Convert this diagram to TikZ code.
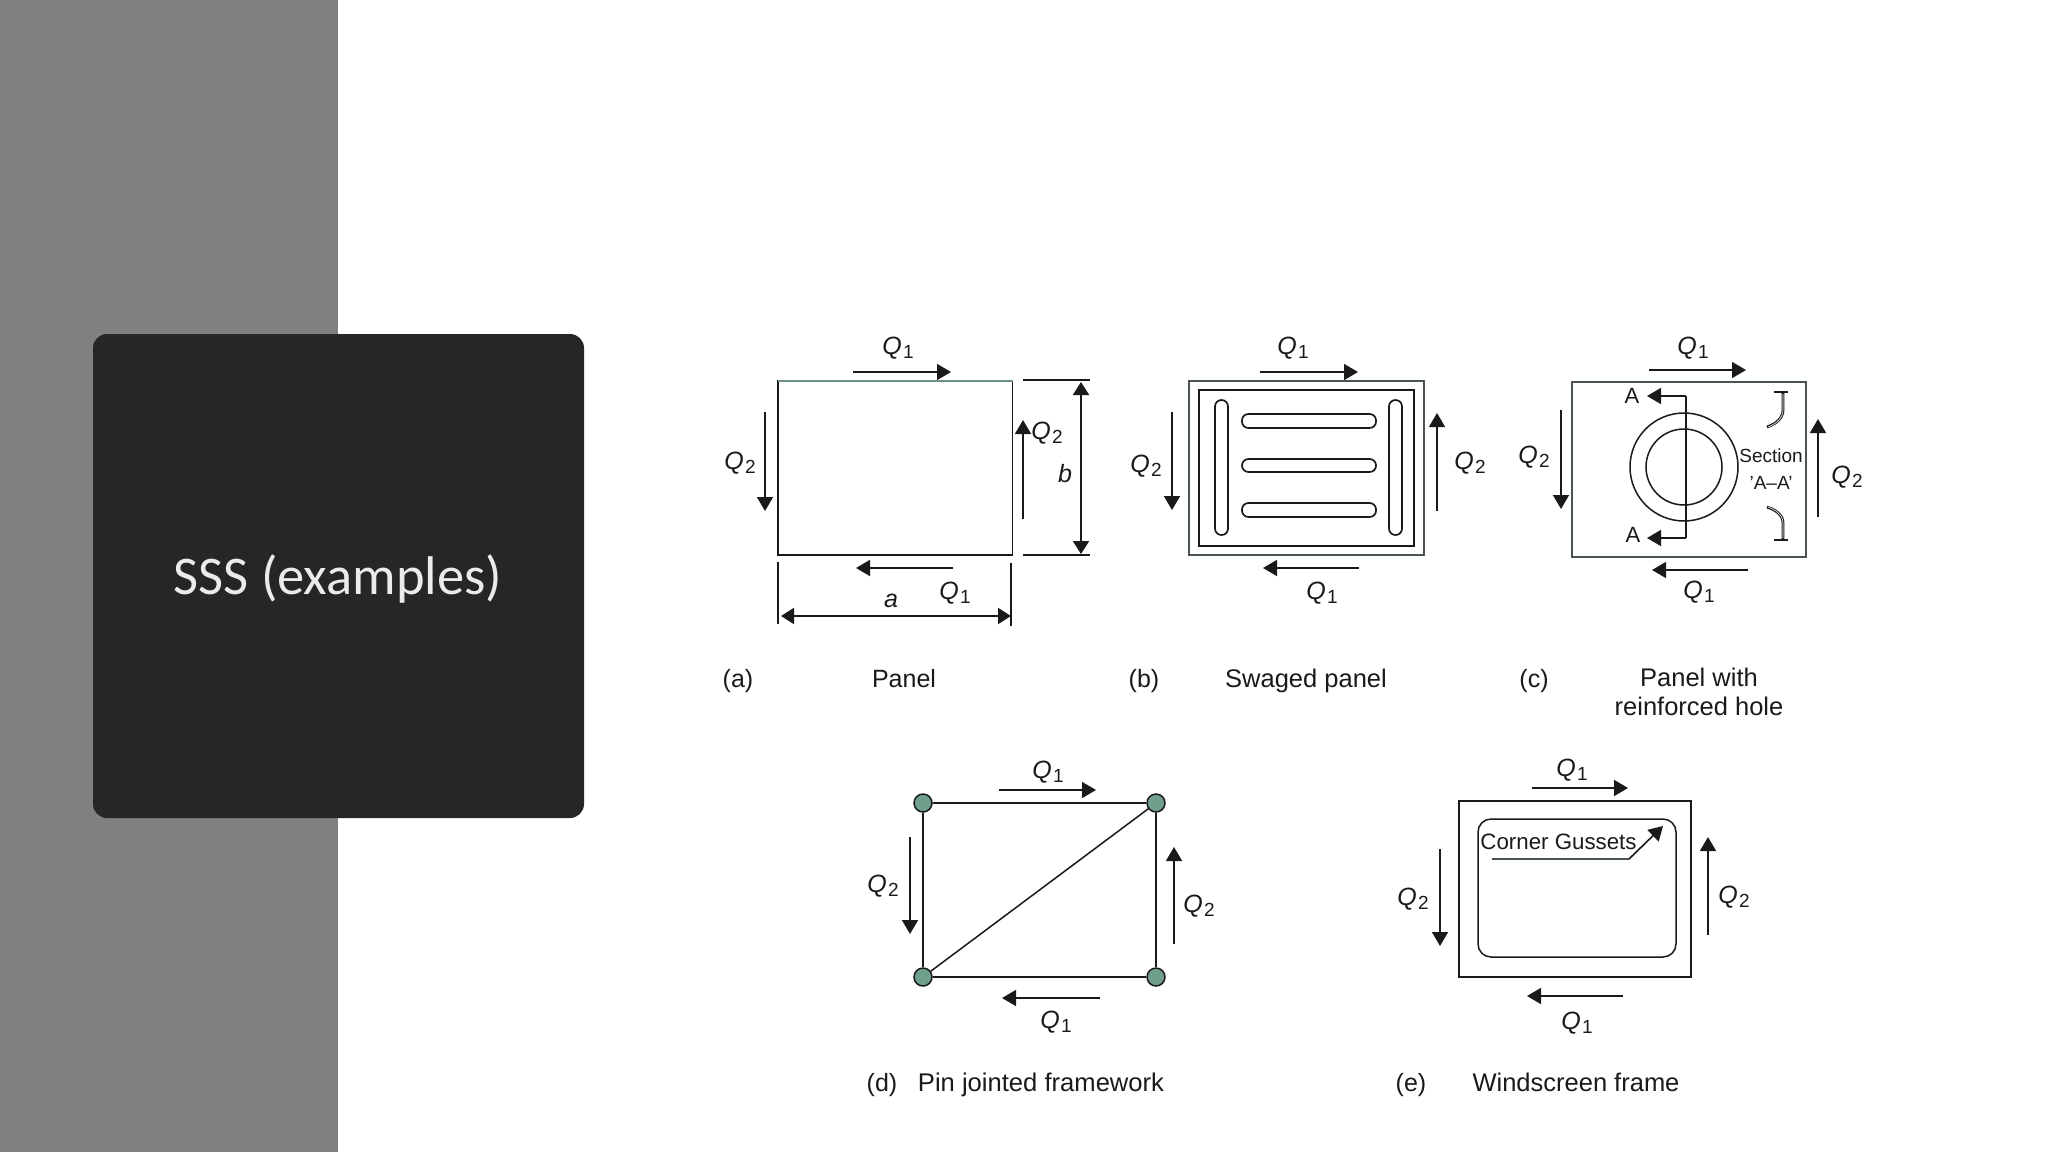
\documentclass[tikz,border=0pt]{standalone}
\usepackage{fontspec}
\setmainfont{Liberation Sans}
\newfontfamily\titlefont{Carlito}
\usetikzlibrary{arrows.meta}
\definecolor{bandgrey}{HTML}{808080}
\definecolor{boxdark}{HTML}{262626}
\definecolor{inkline}{HTML}{1A1A1A}
\definecolor{edgegreen}{HTML}{6F8F80}
\definecolor{edgegrey}{HTML}{4A5550}
\definecolor{pingreen}{HTML}{6FA08C}
\newcommand{\Qlab}[1]{{\itshape Q}\raisebox{-4pt}{\fontsize{19}{19}\selectfont\kern1.5pt #1}}
\tikzset{
  force/.style={draw=inkline,line width=1.6pt,-{Triangle[length=14pt,width=16pt]}},
  dimline/.style={draw=inkline,line width=1.6pt},
  dimarrow/.style={draw=inkline,line width=2pt,{Triangle[length=13pt,width=16pt]}-{Triangle[length=13pt,width=16pt]}},
  panelrect/.style={draw=inkline,line width=1.5pt},
  greenrect/.style={draw=edgegrey,line width=2pt},
  slot/.style={draw=inkline,line width=1.7pt,rounded corners=6.4pt},
  qlabel/.style={inner sep=0pt,text=inkline,font=\fontsize{25}{28}\selectfont},
  caption/.style={inner sep=0pt,text=inkline,font=\fontsize{25}{29}\selectfont,align=center,anchor=base},
  smalltext/.style={inner sep=0pt,text=inkline,font=\fontsize{19}{22}\selectfont},
  pin/.style={circle,draw=inkline,line width=1.5pt,fill=pingreen,minimum size=18pt,inner sep=0pt},
  barline/.style={draw=inkline,line width=1.5pt},
  jshape/.style={draw=inkline,line width=2.8pt},
  jinner/.style={draw=white,line width=0.6pt}
}
\begin{document}
\begin{tikzpicture}[x=1pt,y=-1pt]
\useasboundingbox (0,0) rectangle (2048,1152);
\fill[white] (0,0) rectangle (2048,1152);
% slide
\fill[bandgrey] (0,0) rectangle (338,1152);
\fill[boxdark,rounded corners=14pt] (93,334) rectangle (584,818);
\node[inner sep=0pt,text=white!92!black,font=\titlefont\fontsize{54.5}{60}\selectfont] (title) at (338,579) {SSS (examples)};

% (a)
\draw[panelrect] (778,381) rectangle (1012.5,555);
\draw[draw=edgegreen,line width=1.5pt] (778,381) -- (1012.5,381);
\draw[force] (853,372) -- (951,372);
\node[qlabel] (a1) at (898,348) {\Qlab{1}};
\draw[force] (765,412) -- (765,511);
\node[qlabel] (a2) at (740,463) {\Qlab{2}};
\draw[force] (1023,519) -- (1023,420);
\node[qlabel] (a3) at (1047,433) {\Qlab{2}};
\draw[force] (953,568) -- (856,568);
\node[qlabel] (a4) at (955,593) {\Qlab{1}};
\draw[dimline] (1023,380) -- (1090,380);
\draw[dimline] (1023,555) -- (1090,555);
\draw[dimarrow] (1081,382) -- (1081,554);
\node[qlabel] (ab) at (1065,474) {\itshape b};
\draw[dimline] (778,562) -- (778,624);
\draw[dimline] (1011,563) -- (1011,626);
\draw[dimarrow] (781,616) -- (1011,616);
\node[qlabel] (aa) at (891,601) {\itshape a};
\node[caption] (acap) at (738,687) {(a)};
\node[caption] (aname) at (904,687) {Panel};

% (b)
\draw[greenrect] (1189,381) rectangle (1424,555);
\draw[panelrect] (1199,390) rectangle (1414,546);
\draw[slot] (1215,400) rectangle (1228,535);
\draw[slot] (1389,400) rectangle (1402,535);
\draw[slot] (1242,414) rectangle (1376,428);
\draw[slot] (1242,459) rectangle (1376,472);
\draw[slot] (1242,503) rectangle (1376,517);
\draw[force] (1260,372) -- (1358,372);
\node[qlabel] (b1) at (1293,348) {\Qlab{1}};
\draw[force] (1172,412) -- (1172,510);
\node[qlabel] (b2) at (1146,466) {\Qlab{2}};
\draw[force] (1437,511) -- (1437,413);
\node[qlabel] (b3) at (1470,463) {\Qlab{2}};
\draw[force] (1359,568) -- (1263,568);
\node[qlabel] (b4) at (1322,593) {\Qlab{1}};
\node[caption] (bcap) at (1144,687) {(b)};
\node[caption,font=\fontsize{25.5}{29}\selectfont] (bname) at (1306,687) {Swaged panel};

% (c)
\draw[greenrect] (1572,382) rectangle (1806,557);
\draw[barline] (1684,467) circle (54);
\draw[barline] (1684,467) circle (38);
\coordinate (ct) at (1686,396);
\coordinate (cb) at (1686,538);
\draw[barline] (ct) -- (cb);
\draw[force] (ct) -- (1647,396);
\draw[force] (cb) -- (1647,538);
\node[inner sep=0pt,text=inkline,font=\fontsize{22}{24}\selectfont] (cA1) at (1632,396) {A};
\node[inner sep=0pt,text=inkline,font=\fontsize{22}{24}\selectfont] (cA2) at (1633,535) {A};
\node[smalltext] (csec) at (1771,456) {Section};
\node[smalltext] (csec2) at (1771,483) {'A–A'};
\draw[barline] (1774,392) -- (1788,392);
\draw[jshape] (1783,392) -- (1783,410) .. controls (1783,418) and (1776,424) .. (1767,427);
\draw[jinner] (1783,394) -- (1783,410) .. controls (1783,418) and (1776,424) .. (1768,427);
\draw[barline] (1774,540) -- (1788,540);
\draw[jshape] (1783,540) -- (1783,523) .. controls (1783,515) and (1776,510) .. (1767,507);
\draw[jinner] (1783,538) -- (1783,523) .. controls (1783,515) and (1776,510) .. (1768,507);
\draw[force] (1649,370) -- (1746,370);
\node[qlabel] (c1) at (1693,348) {\Qlab{1}};
\draw[force] (1561,410) -- (1561,509);
\node[qlabel] (c2) at (1534,457) {\Qlab{2}};
\draw[force] (1818,517) -- (1818,419);
\node[qlabel] (c3) at (1847,477) {\Qlab{2}};
\draw[force] (1748,570) -- (1652,570);
\node[qlabel] (c4) at (1699,592) {\Qlab{1}};
\node[caption] (ccap) at (1534,687) {(c)};
\node[caption,anchor=north,font=\fontsize{25.5}{29}\selectfont] (cname) at (1699,667.5) {Panel with\\reinforced hole};

% (d)
\node[pin] (p1) at (923,803) {};
\node[pin] (p2) at (1156,803) {};
\node[pin] (p3) at (923,977) {};
\node[pin] (p4) at (1156,977) {};
\draw[barline] (p1) -- (p2);
\draw[barline] (p2) -- (p4);
\draw[barline] (p4) -- (p3);
\draw[barline] (p3) -- (p1);
\draw[barline] (p3) -- (p2);
\draw[force] (999,790) -- (1096,790);
\node[qlabel] (d1) at (1048,772) {\Qlab{1}};
\draw[force] (910,837) -- (910,934);
\node[qlabel] (d2) at (883,886) {\Qlab{2}};
\draw[force] (1174,944) -- (1174,847);
\node[qlabel] (d3) at (1199,906) {\Qlab{2}};
\draw[force] (1100,998) -- (1002,998);
\node[qlabel] (d4) at (1056,1022) {\Qlab{1}};
\node[caption] (dcap) at (882,1091) {(d)};
\node[caption,font=\fontsize{25.6}{29}\selectfont] (dname) at (1041,1091) {Pin jointed framework};

% (e)
\draw[panelrect,line width=1.8pt] (1459,801) rectangle (1691,977);
\draw[panelrect,rounded corners=13pt] (1478,819) rectangle (1676,957);
\node[inner sep=0pt,text=inkline,font=\fontsize{22.3}{24}\selectfont] (egus) at (1558.5,842) {Corner Gussets};
\coordinate (el) at (1492,859);
\coordinate (em) at (1629,859);
\coordinate (eh) at (1663,826);
\draw[draw=edgegrey,line width=1.6pt] (el) -- (em);
\draw[force] (em) -- (eh);
\draw[force] (1532,788) -- (1628,788);
\node[qlabel] (e1) at (1572,770) {\Qlab{1}};
\draw[force] (1440,849) -- (1440,946);
\node[qlabel] (e2) at (1413,899) {\Qlab{2}};
\draw[force] (1708,935) -- (1708,837);
\node[qlabel] (e3) at (1734,897) {\Qlab{2}};
\draw[force] (1623,996) -- (1527,996);
\node[qlabel] (e4) at (1577,1023) {\Qlab{1}};
\node[caption] (ecap) at (1411,1091) {(e)};
\node[caption,font=\fontsize{25.5}{29}\selectfont] (ename) at (1576,1091) {Windscreen frame};
\end{tikzpicture}
\end{document}
